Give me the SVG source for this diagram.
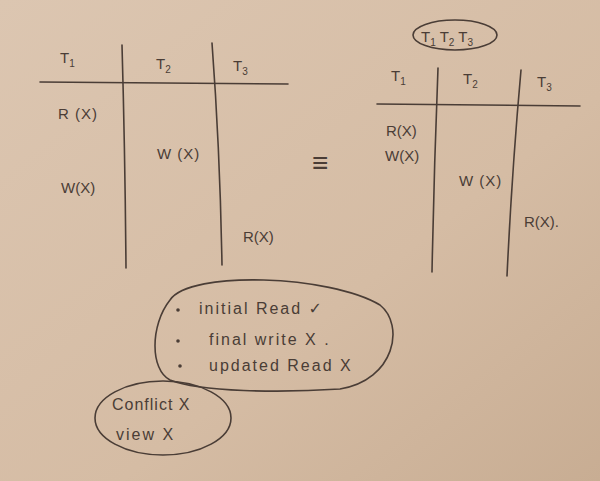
<svg xmlns="http://www.w3.org/2000/svg" width="600" height="481" viewBox="0 0 600 481">
<defs>
<linearGradient id="paper" x1="0" y1="0" x2="1" y2="1">
<stop offset="0" stop-color="#dcc6b1"/>
<stop offset="0.6" stop-color="#d5bca4"/>
<stop offset="1" stop-color="#c8ad93"/>
</linearGradient>
<style>
.ink{fill:none;stroke:#4a3d36;stroke-width:1.6;stroke-linecap:round}
.t{font-family:"Liberation Sans","DejaVu Sans",sans-serif;fill:#4a3d36;font-size:15px}
.s{font-size:10px}
.b{font-size:16px;letter-spacing:2px}
</style>
</defs>
<rect width="600" height="481" fill="url(#paper)"/>
<g id="left-table">
<path class="ink" d="M40 82 L288 84"/>
<path class="ink" d="M122 45 Q125 150 126 268"/>
<path class="ink" d="M212 43 Q220 150 222 265"/>
<text class="t" x="60" y="63">T<tspan class="s" dy="4">1</tspan></text>
<text class="t" x="156" y="69">T<tspan class="s" dy="4">2</tspan></text>
<text class="t" x="233" y="71">T<tspan class="s" dy="4">3</tspan></text>
<text class="t" x="58" y="119" style="letter-spacing:1px">R (X)</text>
<text class="t" x="157" y="159" style="letter-spacing:1px">W (X)</text>
<text class="t" x="61" y="193">W(X)</text>
<text class="t" x="243" y="242">R(X)</text>
</g>
<g id="equiv">
<text class="t" x="312" y="172" style="font-size:28px">≡</text>
</g>
<g id="right-table">
<ellipse class="ink" cx="455" cy="35" rx="42" ry="15"/>
<text class="t" x="421" y="42">T<tspan class="s" dy="4">1</tspan><tspan dy="-4"> T</tspan><tspan class="s" dy="4">2</tspan><tspan dy="-4"> T</tspan><tspan class="s" dy="4">3</tspan></text>
<path class="ink" d="M377 104 L580 106"/>
<path class="ink" d="M438 68 Q434 170 432 272"/>
<path class="ink" d="M521 70 Q512 170 507 276"/>
<text class="t" x="391" y="81">T<tspan class="s" dy="4">1</tspan></text>
<text class="t" x="463" y="84">T<tspan class="s" dy="4">2</tspan></text>
<text class="t" x="537" y="87">T<tspan class="s" dy="4">3</tspan></text>
<text class="t" x="386" y="136">R(X)</text>
<text class="t" x="385" y="161">W(X)</text>
<text class="t" x="459" y="186" style="letter-spacing:1px">W (X)</text>
<text class="t" x="524" y="227">R(X).</text>
</g>
<g id="properties">
<path class="ink" d="M170 300 C190 270 330 275 380 305 C405 325 395 380 340 389 C280 393 200 392 170 380 C150 370 150 325 170 300 Z"/>
<circle cx="178" cy="310" r="1.8" fill="#4a3d36"/>
<circle cx="178" cy="341" r="1.8" fill="#4a3d36"/>
<circle cx="180" cy="366" r="1.8" fill="#4a3d36"/>
<text class="t b" x="199" y="314">initial Read ✓</text>
<text class="t b" x="209" y="345">final write X .</text>
<text class="t b" x="209" y="371">updated Read X</text>
</g>
<g id="conflict">
<ellipse class="ink" cx="163" cy="418" rx="68" ry="37"/>
<text class="t b" x="112" y="410" style="letter-spacing:1px">Conflict X</text>
<text class="t b" x="116" y="440">view X</text>
</g>
</svg>
